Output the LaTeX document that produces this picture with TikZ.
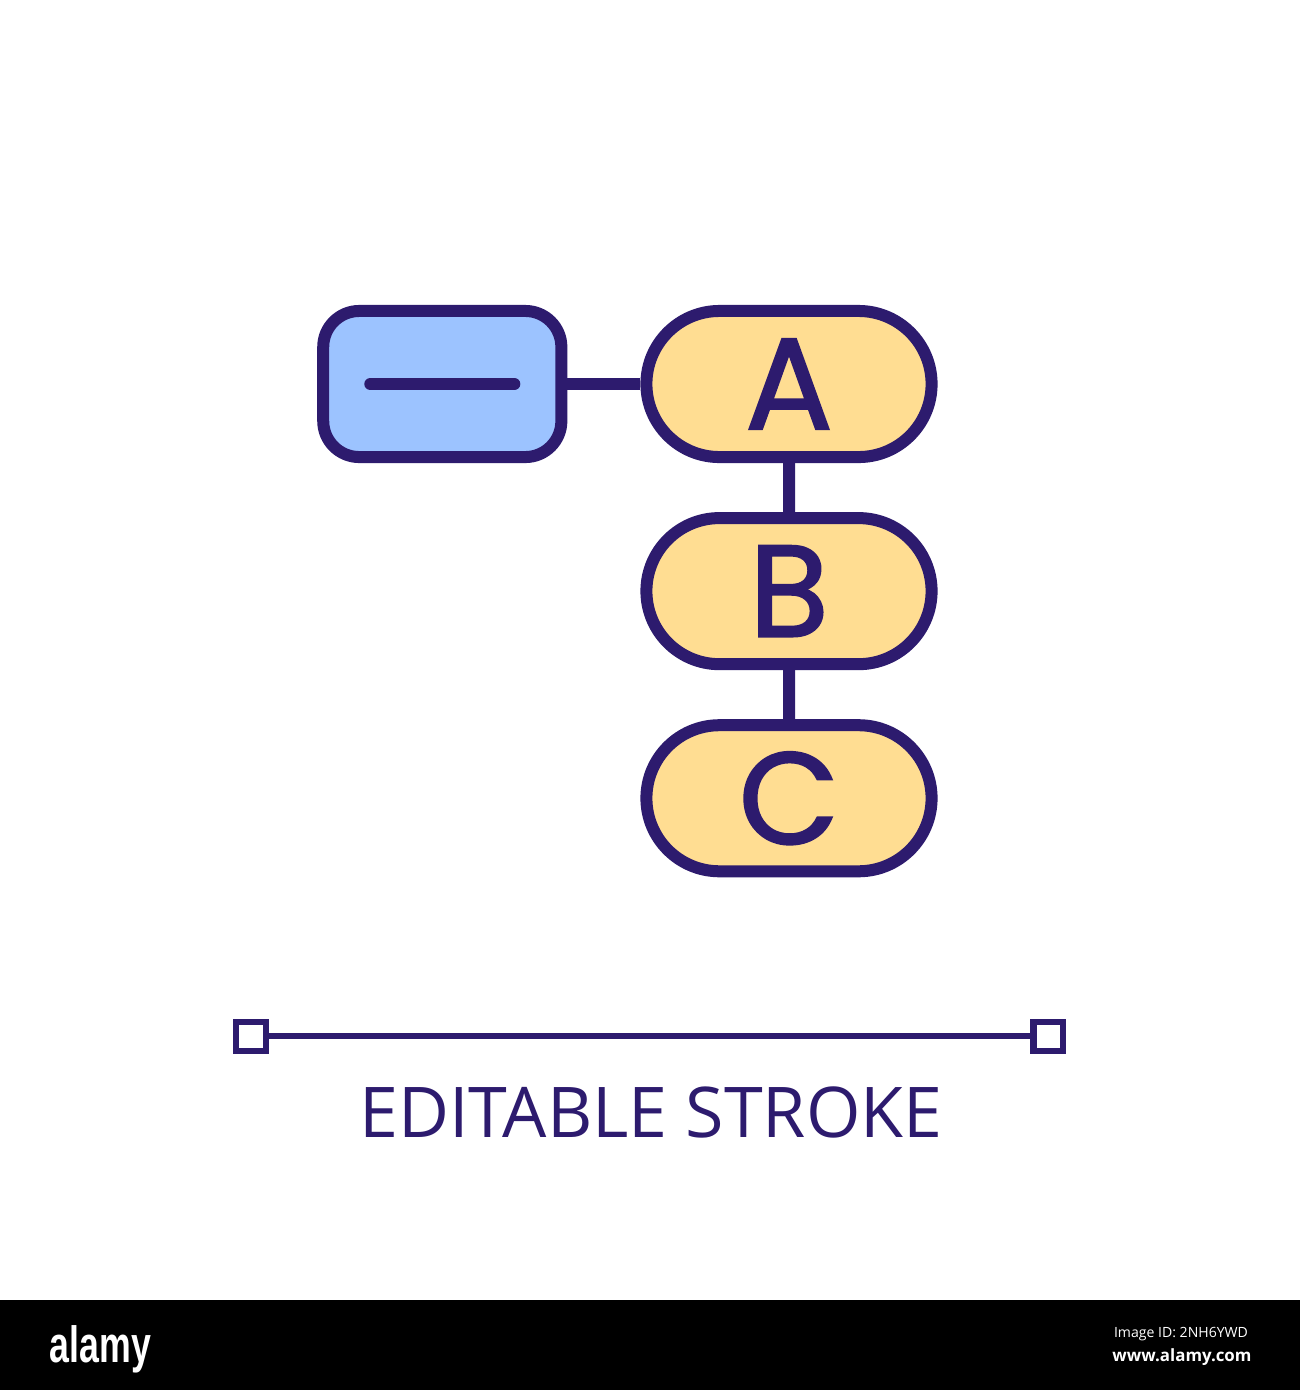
\documentclass[tikz,border=0pt]{standalone}
\usepackage{fontspec}
\usetikzlibrary{positioning, shapes.misc}
\newfontfamily\letterfont[FakeBold=1.6]{Poppins}
\newfontfamily\labelfont{Open Sans}
\newfontfamily\alamyfont[FakeStretch=0.7]{Liberation Sans}
\definecolor{lineblue}{HTML}{2D1B6E}
\definecolor{boxblue}{HTML}{9CC3FF}
\definecolor{pillyellow}{HTML}{FFDD92}
\tikzstyle{menubox} = [rectangle, rounded corners=0.36cm, minimum width=2.38cm, minimum height=1.46cm, draw=lineblue, fill=boxblue, line width=0.12cm]
\tikzstyle{pill} = [rounded rectangle, minimum width=2.85cm, minimum height=1.46cm, inner sep=0pt, draw=lineblue, fill=pillyellow, line width=0.12cm, text=lineblue, font=\letterfont\fontsize{37}{37}\selectfont]
\tikzstyle{link} = [draw=lineblue, line width=0.12cm]
\tikzstyle{handle} = [rectangle, minimum size=0.29cm, inner sep=0pt, draw=lineblue, fill=white, line width=0.06cm]
\tikzstyle{every node}=[outer sep=auto]

\begin{document}
\begin{tikzpicture}[x=0.01cm, y=-0.01cm]
		\useasboundingbox [fill=white] (0,0) rectangle (1300,1390);
		%定义节点
		\node (nodeA) [pill] at (789,384) {A};
		\node (nodeB) [pill, below=0.49cm of nodeA] {B};
		\node (nodeC) [pill, below=0.49cm of nodeB] {C};
		\node (menu) [menubox, left=0.73cm of nodeA] {};
		\draw [link, line cap=round] ([xshift=-0.72cm]menu.center) -- ([xshift=0.72cm]menu.center);
		
		%连接节点
		\draw [link] (menu) -- (nodeA);
		\draw [link] (nodeA) -- (nodeB);
		\draw [link] (nodeB) -- (nodeC);
		
		%下方的线和文字
		\node (lefthandle) [handle] at (251,1036) {};
		\node (righthandle) [handle] at (1048,1036) {};
		\draw [link, line width=0.055cm] (lefthandle) -- (righthandle);
		\node (caption) [anchor=base, text=lineblue, font=\labelfont\fontsize{19.9}{19.9}\selectfont] at (651,1137) {EDITABLE STROKE};
		
		%底部黑条
		\fill [black] (0,1300) rectangle (1300,1390);
		\node (alamy) [anchor=base west, inner sep=0pt, text=white, font=\alamyfont\bfseries\fontsize{14.5}{14.5}\selectfont] at (50,1362) {alamy};
		\node (imageid) [anchor=base, inner sep=0pt, text=white, font=\labelfont\fontsize{4}{4}\selectfont] at (1181,1337) {Image ID: 2NH6YWD};
		\node (website) [anchor=base, inner sep=0pt, text=white, font=\labelfont\bfseries\fontsize{4.8}{4.8}\selectfont] at (1182,1361) {www.alamy.com};
	\end{tikzpicture}
\end{document}
